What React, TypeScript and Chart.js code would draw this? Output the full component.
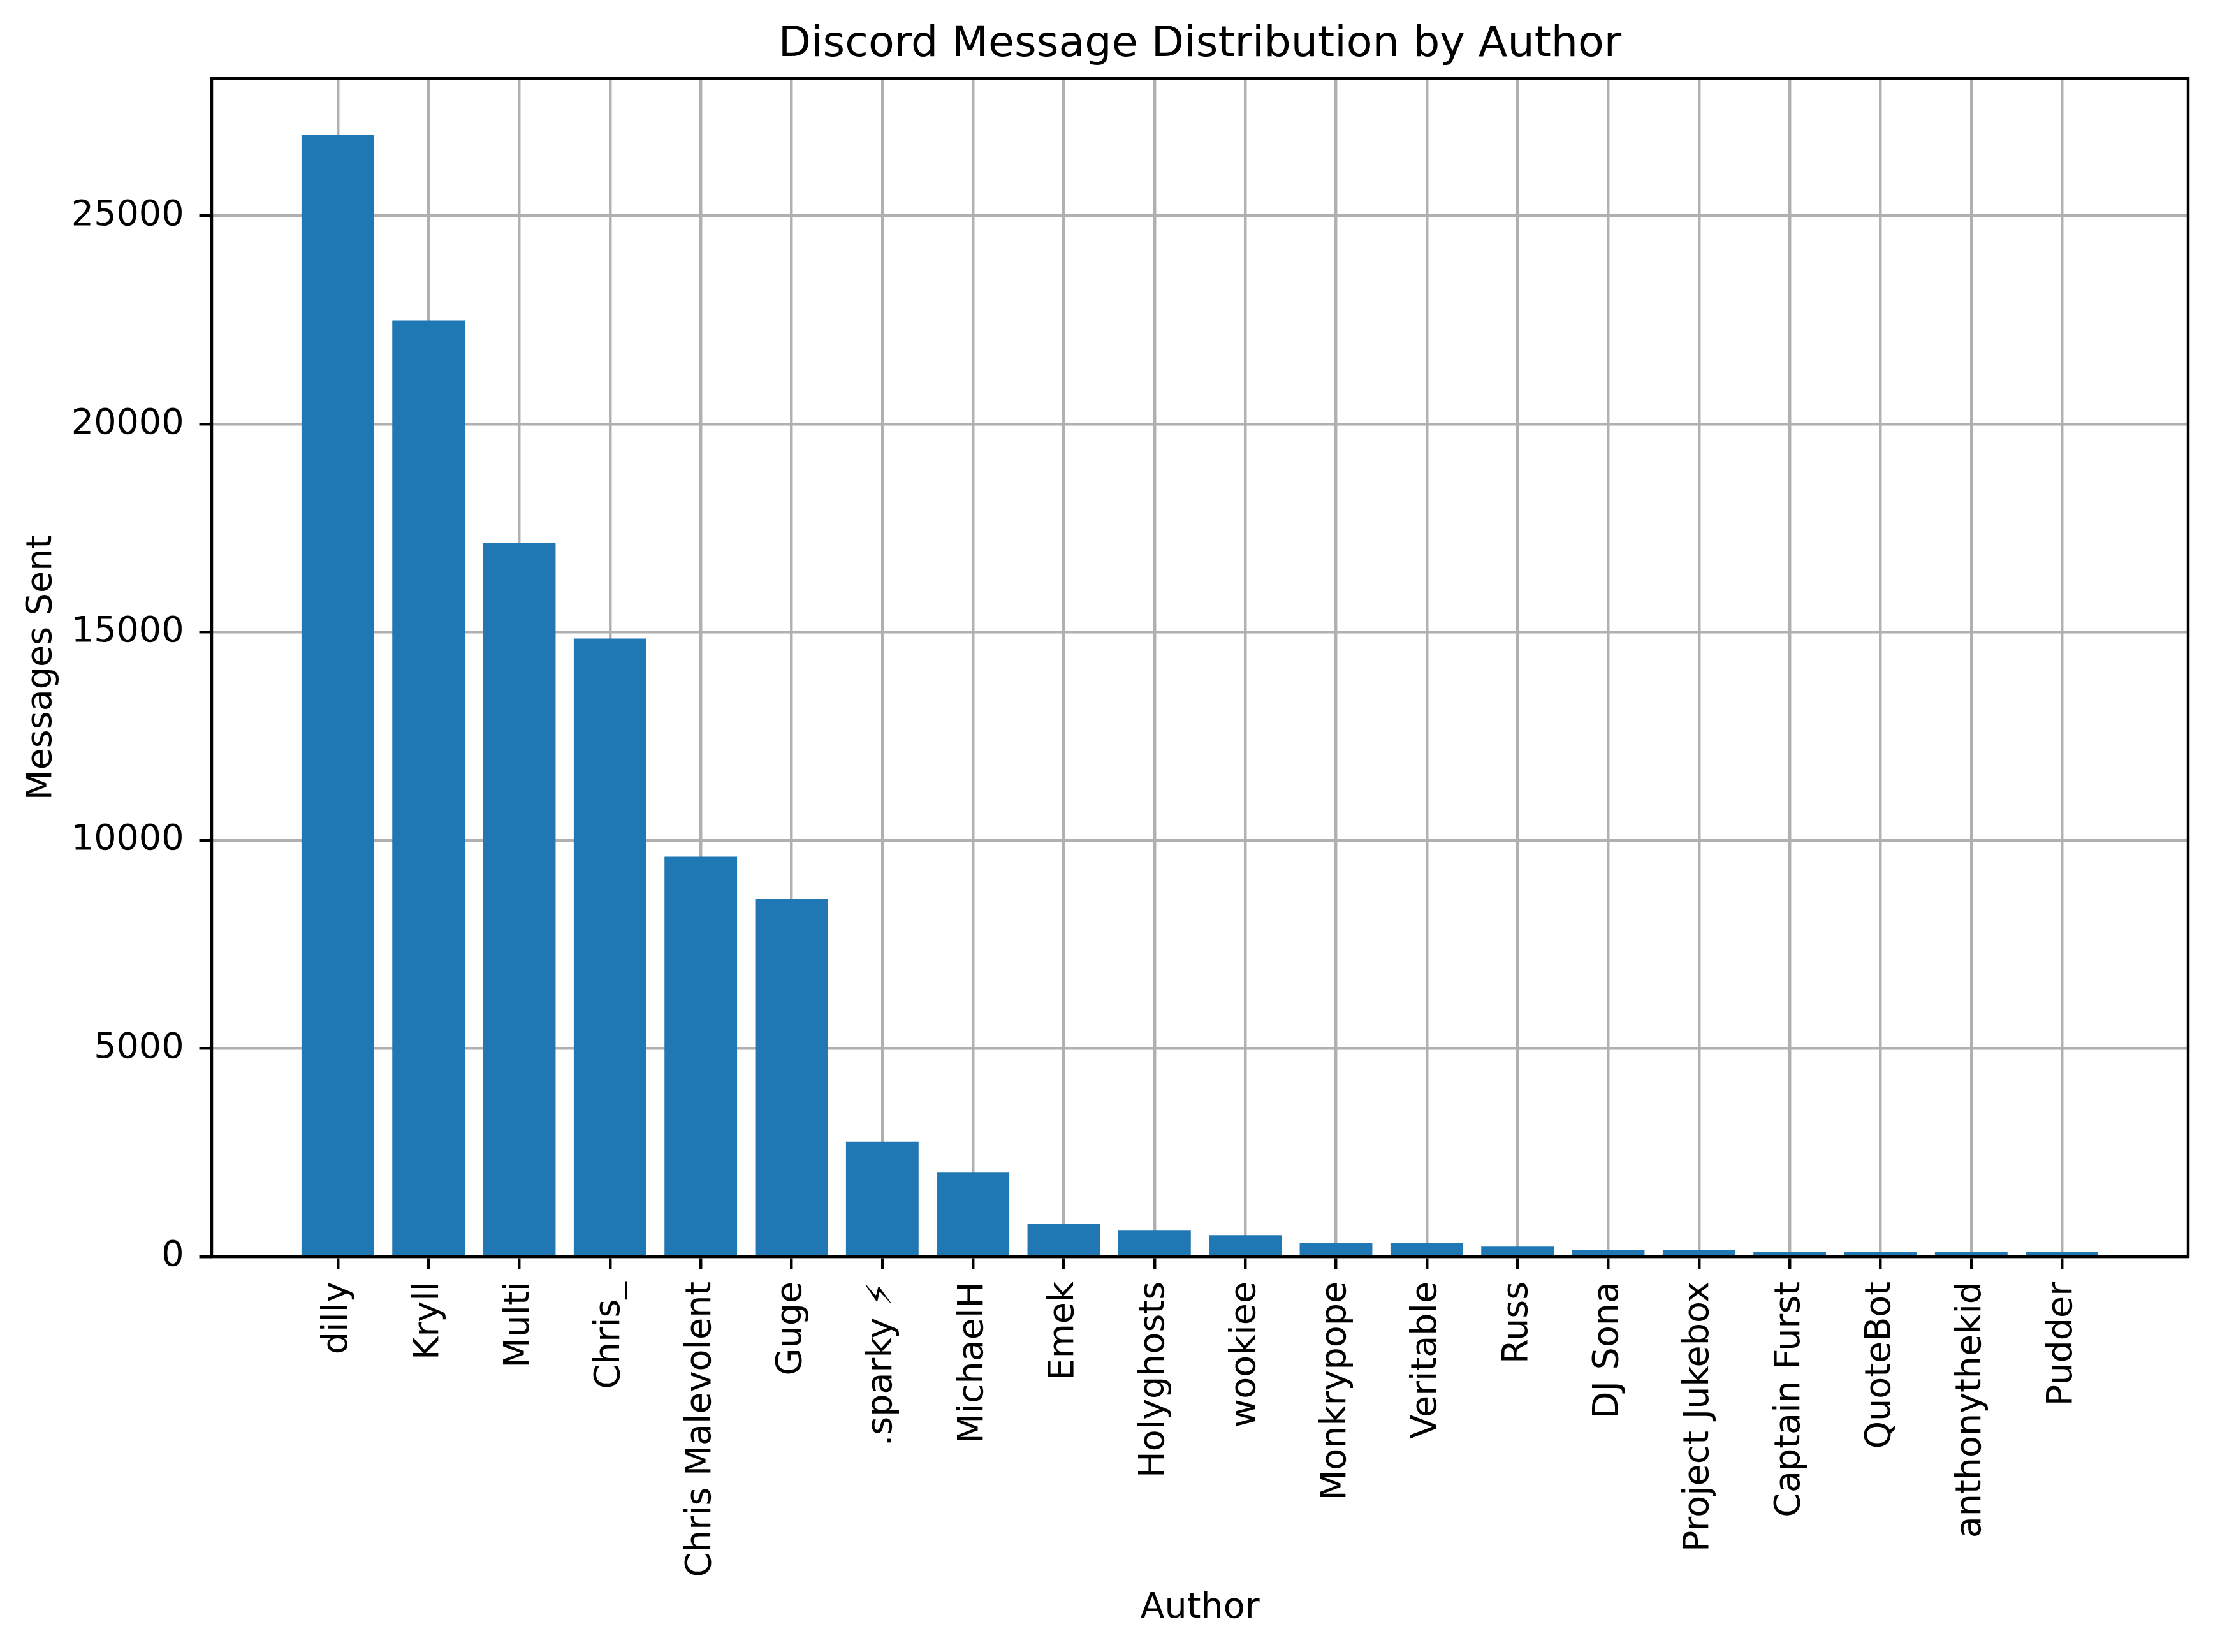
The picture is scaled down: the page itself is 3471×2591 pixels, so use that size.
import { useEffect, useRef } from "react"
import { Chart, registerables } from "chart.js"

Chart.register(...registerables)

const authors = [
  "dilly",
  "Kryll",
  "Multi",
  "Chris_",
  "Chris Malevolent",
  "Guge",
  ".sparky \u26A1",
  "MichaelH",
  "Emek",
  "Holyghosts",
  "wookiee",
  "Monkrypope",
  "Veritable",
  "Russ",
  "DJ Sona",
  "Project Jukebox",
  "Captain Furst",
  "QuoteBot",
  "anthonythekid",
  "Pudder",
]

const messages = [
  26955, 22490, 17150, 14850, 9610, 8590, 2760, 2035, 790, 640, 517, 336, 336,
  242, 168, 168, 122, 122, 122, 106,
]

const yTicks = [0, 5000, 10000, 15000, 20000, 25000]

// matplotlib-like scale: 400 dpi, so 1pt = 400/72 px
const PT = 400 / 72
const W = 3471
const H = 2591

// frame around the plot area (spines drawn on top of the bars)
const framePlugin = {
  id: "frame",
  afterDatasetsDraw(chart: Chart) {
    const { ctx, chartArea } = chart
    ctx.save()
    ctx.strokeStyle = "#000000"
    ctx.lineWidth = 0.8 * PT
    ctx.strokeRect(chartArea.left, chartArea.top, chartArea.right - chartArea.left, chartArea.bottom - chartArea.top)
    ctx.restore()
  },
}

export default function App() {
  const chartRef = useRef<HTMLCanvasElement>(null)
  const chartInstance = useRef<Chart | null>(null)

  useEffect(() => {
    if (!chartRef.current) return

    if (chartInstance.current) {
      chartInstance.current.destroy()
    }

    const ctx = chartRef.current.getContext("2d")
    if (!ctx) return

    Chart.defaults.font.family = "'DejaVu Sans'"
    Chart.defaults.color = "#000000"

    // axis limits like matplotlib's default 5% margins
    const span = authors.length - 1 + 0.8
    const xMin = -0.4 - 0.05 * span
    const xMax = authors.length - 1 + 0.4 + 0.05 * span
    const yMax = Math.max(...messages) * 1.05

    const tickFont = { size: 10 * PT }

    chartInstance.current = new Chart(ctx, {
      type: "bar",
      data: {
        datasets: [
          {
            label: "Messages Sent",
            data: messages.map((v, i) => ({ x: i, y: v })),
            backgroundColor: "#1f77b4",
            borderWidth: 0,
            categoryPercentage: 0.8,
            barPercentage: 1,
          },
        ],
      },
      options: {
        animation: false,
        responsive: false,
        devicePixelRatio: 1,
        layout: {
          padding: { left: 0, right: W - 3432, top: 0, bottom: 0 },
        },
        plugins: {
          legend: { display: false },
          tooltip: { enabled: false },
          title: {
            display: true,
            fullSize: false,
            text: "Discord Message Distribution by Author",
            color: "#000000",
            font: { size: 12 * PT, weight: "normal", lineHeight: 1.2 },
            padding: { top: 31, bottom: 12 },
          },
        },
        scales: {
          x: {
            type: "linear",
            min: xMin,
            max: xMax,
            offset: false,
            afterBuildTicks: (scale: any) => {
              scale.ticks = authors.map((_, i) => ({ value: i }))
            },
            afterFit: (scale: any) => {
              scale.height = H - 1971
            },
            ticks: {
              autoSkip: false,
              minRotation: 90,
              maxRotation: 90,
              padding: 3.5 * PT,
              font: tickFont,
              color: "#000000",
              callback: (value: any) => authors[value as number] ?? "",
            },
            grid: {
              offset: false,
              color: "#b0b0b0",
              lineWidth: 0.8 * PT,
              tickColor: "#000000",
              tickLength: 3.5 * PT,
              tickWidth: 0.8 * PT,
            },
            border: { display: false },
            title: {
              display: true,
              text: "Author",
              color: "#000000",
              font: { size: 10 * PT, lineHeight: 1.2 },
              padding: { top: 0, bottom: 35 },
            },
          },
          y: {
            min: 0,
            max: yMax,
            afterBuildTicks: (scale: any) => {
              scale.ticks = yTicks.map((v) => ({ value: v }))
            },
            afterFit: (scale: any) => {
              scale.width = 332
            },
            ticks: {
              padding: 24,
              font: tickFont,
              color: "#000000",
              callback: (value: any) => String(value),
            },
            grid: {
              color: "#b0b0b0",
              lineWidth: 0.8 * PT,
              tickColor: "#000000",
              tickLength: 3.5 * PT,
              tickWidth: 0.8 * PT,
            },
            border: { display: false },
            title: {
              display: true,
              text: "Messages Sent",
              color: "#000000",
              font: { size: 10 * PT, lineHeight: 1.2 },
              padding: { top: 32, bottom: 0 },
            },
          },
        },
      },
      plugins: [framePlugin],
    })

    return () => {
      if (chartInstance.current) {
        chartInstance.current.destroy()
        chartInstance.current = null
      }
    }
  }, [])

  return (
    <div style={{ position: "absolute", left: 0, top: 0, width: W, height: H, background: "#ffffff" }}>
      <canvas ref={chartRef} width={W} height={H} style={{ width: W, height: H }} />
    </div>
  )
}
